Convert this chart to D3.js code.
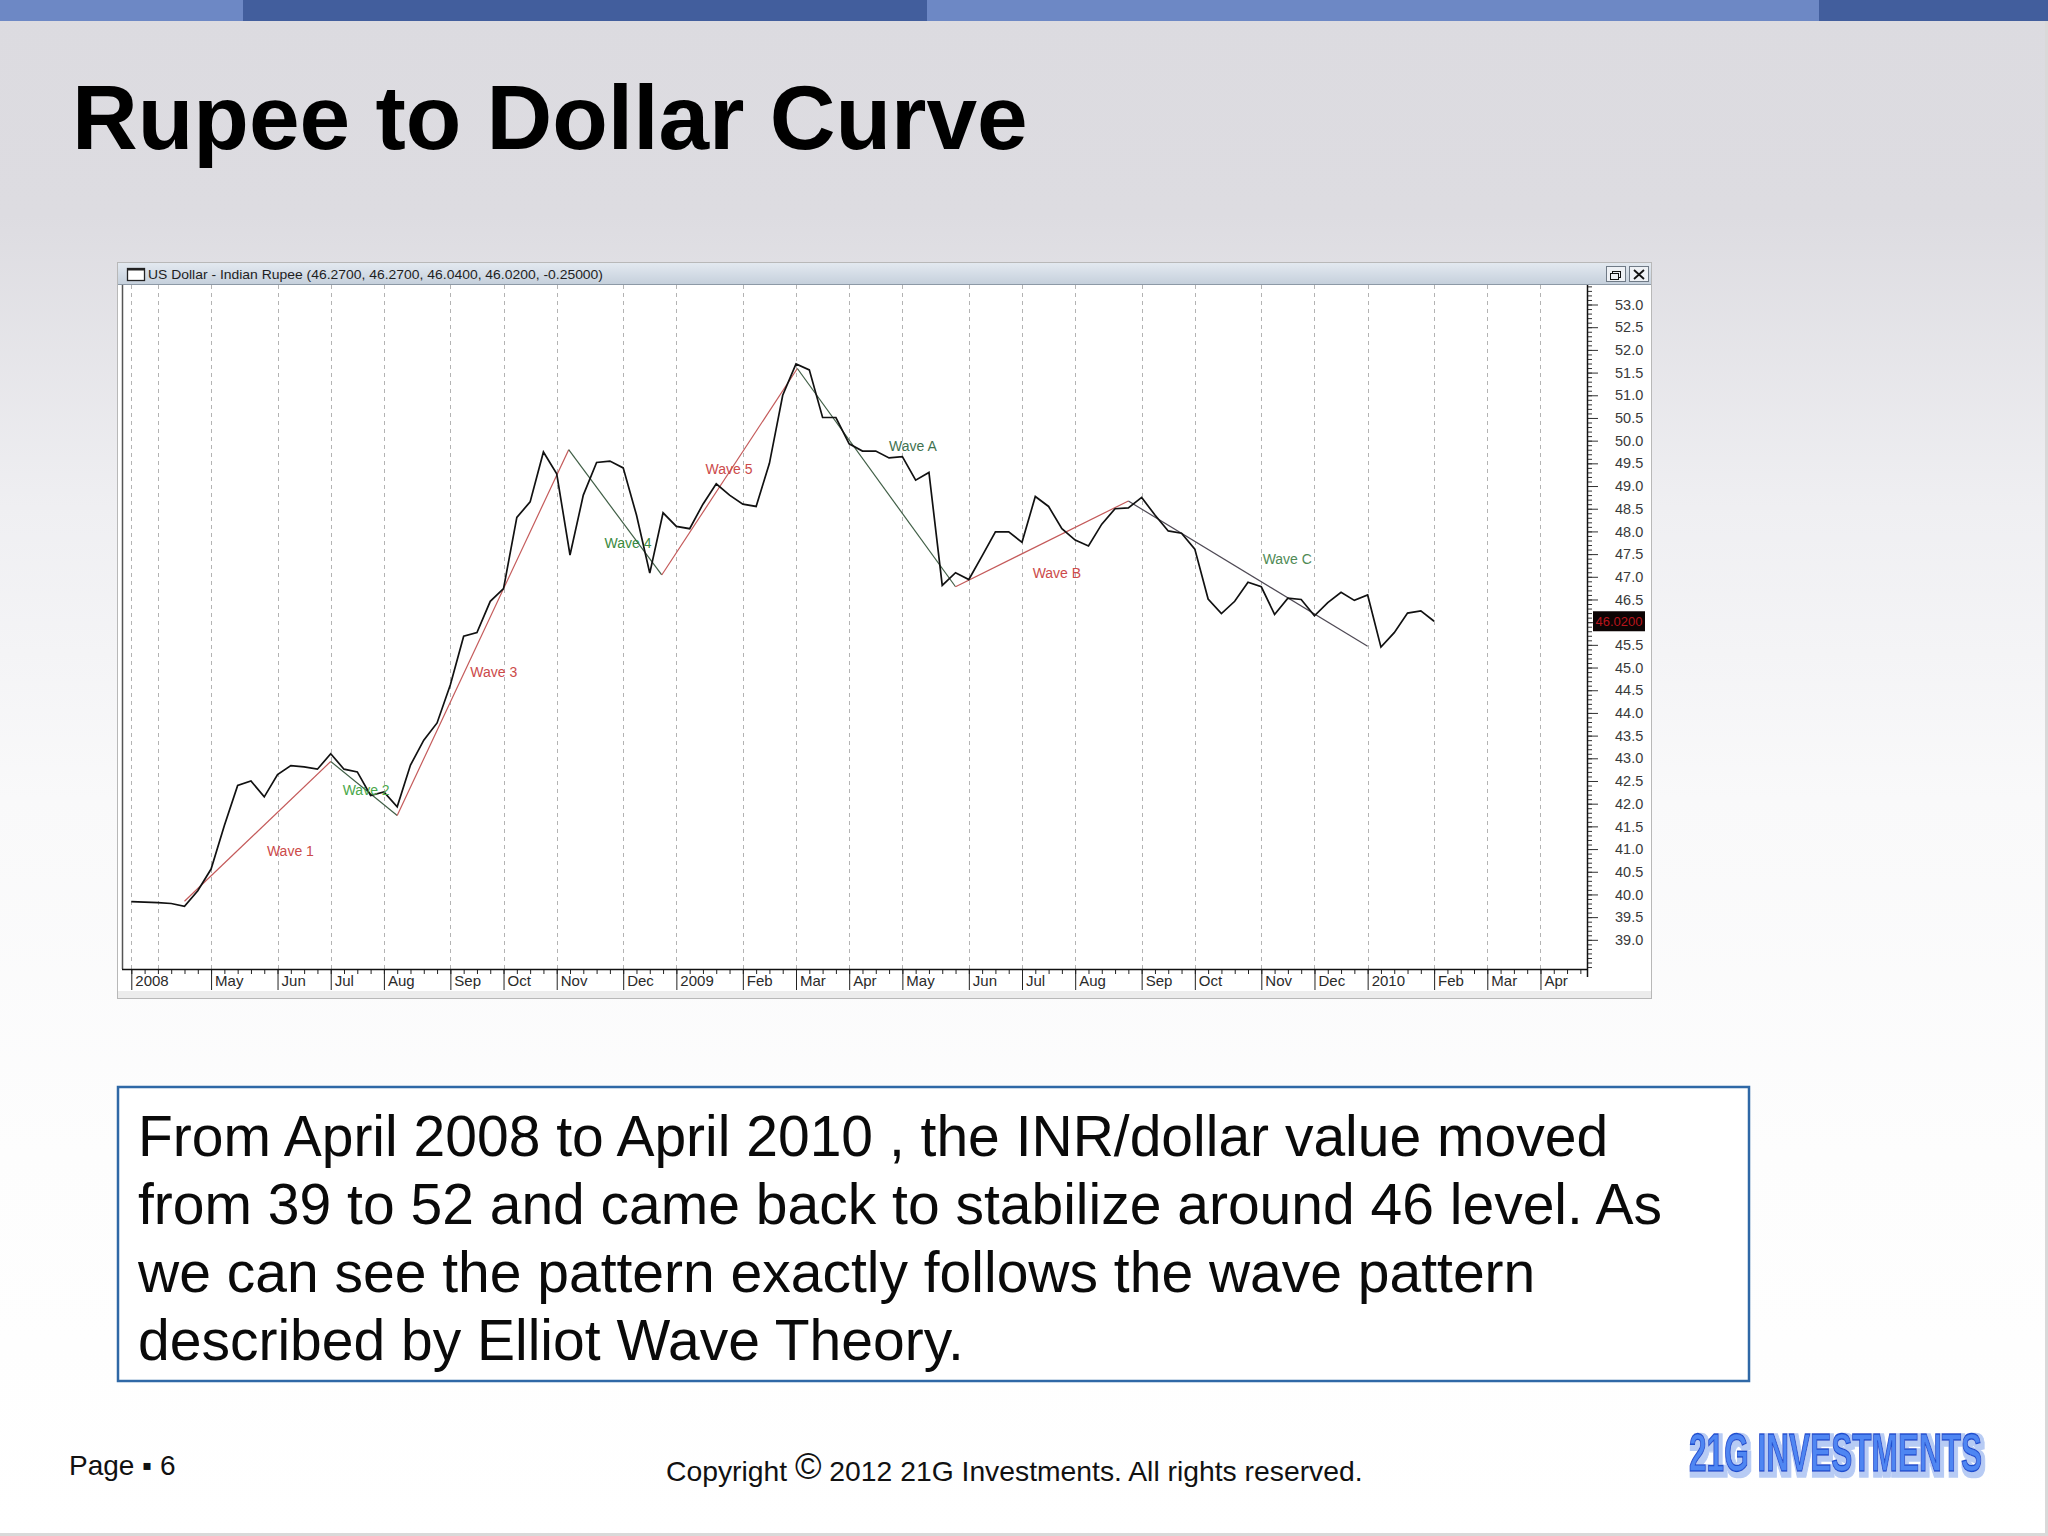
<!DOCTYPE html>
<html><head><meta charset="utf-8">
<script src="https://d3js.org/d3.v7.min.js"></script>
<style>html,body{margin:0;padding:0;background:#fff;} svg{display:block;}</style>
</head><body>
<svg id="c" width="2048" height="1536"></svg>
<script>
// ---------------- DATA ----------------
const slideTitle = "Rupee to Dollar Curve";
const chartCaption = "US Dollar - Indian Rupee (46.2700, 46.2700, 46.0400, 46.0200, -0.25000)";
const lastValueLabel = "46.0200";
const lastValue = 46.02;

// weekly closes, week 0 = mid-March 2008
const weekIndex = d3.range(0, 99);
const closeValues = [
  39.84, 39.83, 39.82, 39.80, 39.74, 40.08, 40.56, 41.52, 42.40, 42.50,
  42.15, 42.64, 42.84, 42.81, 42.76, 43.10, 42.76, 42.70, 42.18, 42.26,
  41.93, 42.85, 43.40, 43.78, 44.62, 45.69, 45.77, 46.46, 46.74, 48.31,
  48.65, 49.75, 49.27, 47.48, 48.80, 49.52, 49.55, 49.40, 48.36, 47.08,
  48.41, 48.11, 48.06, 48.60, 49.05, 48.80, 48.60, 48.55, 49.50, 51.00,
  51.69, 51.56, 50.51, 50.51, 49.93, 49.77, 49.77, 49.62, 49.65, 49.13,
  49.30, 46.81, 47.09, 46.94, 47.46, 47.99, 47.99, 47.76, 48.77, 48.55,
  48.06, 47.81, 47.68, 48.16, 48.50, 48.52, 48.75, 48.36, 48.01, 47.96,
  47.61, 46.51, 46.19, 46.46, 46.88, 46.78, 46.17, 46.53, 46.50, 46.14,
  46.43, 46.66, 46.48, 46.60, 45.45, 45.77, 46.20, 46.25, 46.02
];

// Elliott wave pivots
const pivotWeeks  = [4, 15, 20, 32.9, 39.9, 50.1, 62, 75, 93];
const pivotValues = [39.85, 42.93, 41.74, 49.80, 47.04, 51.59, 46.78, 48.67, 45.47];
const segmentKinds = ["impulse","corr","impulse","corr","impulse","corrA","impulse","corrC"];

// wave labels
const waveNames  = ["Wave 1","Wave 2","Wave 3","Wave 4","Wave 5","Wave A","Wave B","Wave C"];
const waveLabelWeeks  = [10.2, 15.9, 25.5, 35.6, 43.2, 57.0, 67.8, 85.1];
const waveLabelValues = [40.95, 42.29, 44.89, 47.75, 49.37, 49.89, 47.08, 47.40];
const waveLabelKinds  = ["red","green1","red","green2","red","green3","red","green4"];

// time axis
const monthWeeks  = [0, 6, 11, 15, 19, 24, 28, 32, 37, 41, 46, 50, 54, 58, 63, 67, 71, 76, 80, 85, 89, 93, 98, 102, 106];
const monthLabels = ["2008","May","Jun","Jul","Aug","Sep","Oct","Nov","Dec","2009","Feb","Mar","Apr","May","Jun","Jul","Aug","Sep","Oct","Nov","Dec","2010","Feb","Mar","Apr"];
const gridWeeks   = [0, 2, 6, 11, 15, 19, 24, 28, 32, 37, 41, 46, 50, 54, 58, 63, 67, 71, 76, 80, 85, 89, 93, 98, 102, 106];
const minorWeekTicks = d3.range(0, 110);

// value axis
const yMajorTicks = d3.range(390, 531, 5).map(d => d / 10);
const yMinorTicks = d3.range(384, 535, 1).map(d => d / 10);

// text
const bodyLines = [
  "From April 2008 to April 2010 , the INR/dollar value moved",
  "from 39 to 52 and came back to stabilize around 46 level. As",
  "we can see the pattern exactly follows the wave pattern",
  "described by Elliot Wave Theory."
];
const pageLabel = "Page \u25AA 6";
const copyrightParts = ["Copyright ", "\u00A9", " 2012 21G Investments. All rights reserved."];
const logoText = "21G INVESTMENTS";

// ---------------- DRAW ----------------
const FONT = "'Liberation Sans', Arial, Helvetica, sans-serif";
const svg = d3.select("#c");
const defs = svg.append("defs");

const bg = defs.append("linearGradient").attr("id","bg").attr("x1",0).attr("y1",0).attr("x2",0).attr("y2",1);
[[0,"#dcdbe0"],[0.14,"#dddce1"],[0.33,"#efeff2"],[0.52,"#f9f9fa"],[0.75,"#fdfdfd"],[1,"#ffffff"]]
  .forEach(s => bg.append("stop").attr("offset", s[0]).attr("stop-color", s[1]));
const tb = defs.append("linearGradient").attr("id","tb").attr("x1",0).attr("y1",0).attr("x2",0).attr("y2",1);
[[0,"#e3e9f0"],[1,"#c4cfdb"]].forEach(s => tb.append("stop").attr("offset", s[0]).attr("stop-color", s[1]));
const glow = defs.append("filter").attr("id","glow").attr("x","-10%").attr("y","-20%").attr("width","120%").attr("height","150%");
glow.append("feMorphology").attr("in","SourceAlpha").attr("operator","dilate").attr("radius",2).attr("result","d");
glow.append("feOffset").attr("in","d").attr("dx",1.5).attr("dy",2).attr("result","o");
glow.append("feFlood").attr("flood-color","#b7cbf4").attr("result","f");
glow.append("feComposite").attr("in","f").attr("in2","o").attr("operator","in").attr("result","s");
const gm = glow.append("feMerge");
gm.append("feMergeNode").attr("in","s");
gm.append("feMergeNode").attr("in","SourceGraphic");

svg.append("rect").attr("width",2048).attr("height",1536).attr("fill","url(#bg)");
svg.append("rect").attr("x",2045).attr("y",0).attr("width",3).attr("height",1536).attr("fill","#d9d9d9");
svg.append("rect").attr("x",0).attr("y",1533).attr("width",2048).attr("height",3).attr("fill","#d9d9d9");

// top band
const bandEdges = [0, 243, 927, 1819, 2048];
const bandColors = ["#6d88c5", "#425e9d", "#6d88c5", "#425e9d"];
bandColors.forEach((c, i) => svg.append("rect").attr("x", bandEdges[i]).attr("y", 0)
  .attr("width", bandEdges[i+1]-bandEdges[i]).attr("height", 21).attr("fill", c));

svg.append("text").attr("x",72).attr("y",149).attr("font-family",FONT).attr("font-weight","bold")
  .attr("font-size",91).attr("fill","#000").text(slideTitle);

// chart window
const win = svg.append("g");
win.append("rect").attr("x",117.5).attr("y",262.5).attr("width",1534).attr("height",736)
  .attr("fill","#ffffff").attr("stroke","#b8b8b8");
win.append("rect").attr("x",118).attr("y",263).attr("width",1533).attr("height",22).attr("fill","url(#tb)");
win.append("line").attr("x1",118).attr("x2",1651).attr("y1",284.5).attr("y2",284.5).attr("stroke","#8d99a6");
win.append("rect").attr("x",127.5).attr("y",268.5).attr("width",17).attr("height",12).attr("fill","#fff").attr("stroke","#222").attr("stroke-width",1.3);
win.append("line").attr("x1",127.5).attr("x2",144.5).attr("y1",269.5).attr("y2",269.5).attr("stroke","#222").attr("stroke-width",2);
win.append("text").attr("x",148).attr("y",279).attr("font-family",FONT).attr("font-size",13)
  .attr("fill","#1e1e1e").attr("textLength",455).attr("lengthAdjust","spacingAndGlyphs").text(chartCaption);
// buttons
[1606, 1629].forEach(bx => {
  win.append("rect").attr("x",bx+0.5).attr("y",266.5).attr("width",19).attr("height",15)
    .attr("fill","#eef1f5").attr("stroke","#6f7a86");
});
win.append("rect").attr("x",1612.5).attr("y",271.5).attr("width",8).attr("height",6).attr("fill","none").attr("stroke","#111");
win.append("rect").attr("x",1610.5).attr("y",273.5).attr("width",8).attr("height",6).attr("fill","#eef1f5").attr("stroke","#111");
win.append("path").attr("d","M1634,270 L1644,279 M1644,270 L1634,279").attr("stroke","#111").attr("stroke-width",1.8);

// plot area
const L = 124, R = 1587, T = 285, B = 969;
const x = d3.scaleLinear().domain([-0.55, 109.5]).range([L, R]);
const y = d3.scaleLinear().domain([38.357, 53.43]).range([B, T]);

win.append("line").attr("x1",L-1.5).attr("x2",L-1.5).attr("y1",T).attr("y2",B).attr("stroke","#555").attr("stroke-width",1.5);

const g = svg.append("g");
g.selectAll("line.grid").data(gridWeeks).join("line").attr("class","grid")
  .attr("x1", d => Math.round(x(d)) + 0.5).attr("x2", d => Math.round(x(d)) + 0.5)
  .attr("y1", T).attr("y2", B).attr("stroke","#b3b3b3").attr("stroke-width",1).attr("stroke-dasharray","4,4");

// wave lines
const segColor = {impulse:"#c45a5a", corr:"#3f5e45", corrA:"#3f5e45", corrC:"#4f4a55"};
g.selectAll("line.wave").data(segmentKinds).join("line").attr("class","wave")
  .attr("x1", (d,i) => x(pivotWeeks[i])).attr("y1", (d,i) => y(pivotValues[i]))
  .attr("x2", (d,i) => x(pivotWeeks[i+1])).attr("y2", (d,i) => y(pivotValues[i+1]))
  .attr("stroke", d => segColor[d]).attr("stroke-width",1.2);

// price line
const line = d3.line().x((d,i) => x(weekIndex[i])).y(d => y(d));
g.append("path").datum(closeValues).attr("d", line).attr("fill","none")
  .attr("stroke","#111").attr("stroke-width",1.7).attr("stroke-linejoin","miter");

// wave labels
const labColor = {red:"#cc4a4a", green1:"#4aa84a", green2:"#3b8a40", green3:"#3f7250", green4:"#4f8a55"};
g.selectAll("text.wlab").data(waveNames).join("text").attr("class","wlab")
  .attr("x", (d,i) => x(waveLabelWeeks[i])).attr("y", (d,i) => y(waveLabelValues[i]))
  .attr("dy","0.35em").attr("font-family",FONT).attr("font-size",14)
  .attr("fill", (d,i) => labColor[waveLabelKinds[i]]).text(d => d);

// x axis
const xMinor = g.append("g").attr("transform",`translate(0,${B})`)
  .call(d3.axisBottom(x).tickValues(minorWeekTicks).tickSize(5).tickSizeOuter(0).tickFormat(""));
xMinor.select(".domain").remove();
xMinor.selectAll("line").attr("stroke","#222");
const xMajor = g.append("g").attr("transform",`translate(0,${B})`)
  .call(d3.axisBottom(x).tickValues(monthWeeks).tickSize(21).tickSizeOuter(0).tickFormat((d,i) => monthLabels[i]));
xMajor.select(".domain").remove();
xMajor.selectAll("line").attr("stroke","#222");
xMajor.selectAll("text").attr("x",3.5).attr("y",12).attr("dy","0.34em").attr("text-anchor","start")
  .attr("font-family",FONT).attr("font-size",15).attr("fill","#2a2a2a");
g.append("line").attr("x1",L-2).attr("x2",R+1).attr("y1",B+0.5).attr("y2",B+0.5).attr("stroke","#111").attr("stroke-width",1.5);

// y axis (the 46.0 label sits under the last-value marker, so it is left blank)
const fmt = d3.format(".1f");
const yMinor = g.append("g").attr("transform",`translate(${R},0)`)
  .call(d3.axisRight(y).tickValues(yMinorTicks).tickSize(5).tickSizeOuter(0).tickFormat(""));
yMinor.select(".domain").remove();
yMinor.selectAll("line").attr("stroke","#333");
const yMajor = g.append("g").attr("transform",`translate(${R},0)`)
  .call(d3.axisRight(y).tickValues(yMajorTicks).tickSize(11).tickPadding(17).tickSizeOuter(0)
    .tickFormat(d => Math.abs(d - lastValue) < 0.3 ? "" : fmt(d)));
yMajor.select(".domain").remove();
yMajor.selectAll("line").attr("stroke","#333");
yMajor.selectAll("text").attr("font-family",FONT).attr("font-size",14.5).attr("fill","#3a3a3a");
g.append("line").attr("x1",R+0.5).attr("x2",R+0.5).attr("y1",T).attr("y2",B+8).attr("stroke","#111").attr("stroke-width",1.5);

// last value marker
g.append("rect").attr("x",R+6).attr("y",y(lastValue)-10).attr("width",52).attr("height",20).attr("fill","#0c0404");
g.append("text").attr("x",R+32).attr("y",y(lastValue)).attr("dy","0.35em").attr("text-anchor","middle")
  .attr("font-family",FONT).attr("font-size",13).attr("fill","#b8141c").text(lastValueLabel);

// bottom strip
win.append("rect").attr("x",118).attr("y",991).attr("width",1533).attr("height",7).attr("fill","#ececec");

// text box
svg.append("rect").attr("x",118).attr("y",1087).attr("width",1631).attr("height",294)
  .attr("fill","#ffffff").attr("stroke","#2f68a6").attr("stroke-width",2.5);
svg.selectAll("text.body").data(bodyLines).join("text").attr("class","body")
  .attr("x",138).attr("y",(d,i) => 1156 + i*68).attr("font-family",FONT).attr("font-size",57)
  .attr("fill","#0a0a0a").text(d => d);

// footer
svg.append("text").attr("x",69).attr("y",1475).attr("font-family",FONT).attr("font-size",28).attr("fill","#111").text(pageLabel);
const cp = svg.append("text").attr("x",666).attr("y",1481).attr("font-family",FONT).attr("font-size",28.3).attr("fill","#111");
cp.append("tspan").text(copyrightParts[0]);
cp.append("tspan").attr("font-size",36).attr("dy",-2).text(copyrightParts[1]);
cp.append("tspan").attr("dy",2).text(copyrightParts[2]);

// logo: condensed by scaling vertically a narrow-set text
svg.append("g").attr("transform","translate(1689,1471) scale(1,1.7)")
  .append("text").attr("x",0).attr("y",0).attr("font-family",FONT).attr("font-weight","bold")
  .attr("font-size",31.6).attr("fill","#4f86f2").attr("stroke","#1f4fcf").attr("stroke-width",0.8)
  .attr("filter","url(#glow)").text(logoText);
</script>
</body></html>
